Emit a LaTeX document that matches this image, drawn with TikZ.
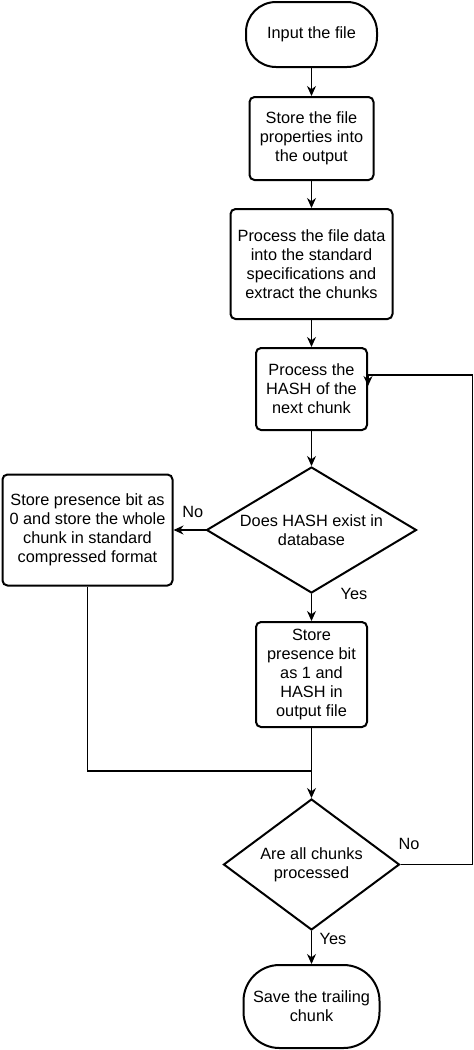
\documentclass[tikz,border=0pt]{standalone}
\usepackage{fontspec}
\setmainfont{Liberation Sans}
\usetikzlibrary{shapes,arrows,arrows.meta,positioning}
\tikzset{basic/.style={draw,line width=2pt,font=\fontsize{16.3}{19}\selectfont,align=center}}
\tikzset{term/.style={basic,rectangle,rounded corners=30pt}}
\tikzset{proc/.style={basic,rectangle,rounded corners=5pt}}
\tikzset{decide/.style={basic,diamond,inner sep=0pt}}
\tikzset{arrow/.style={draw,line width=1.1pt,>={Stealth[length=10pt,width=9pt]}}}
\tikzset{lbl/.style={font=\fontsize{16.3}{19}\selectfont,inner sep=0pt}}

\begin{document}
\begin{tikzpicture}[node distance=125pt,auto]
    \useasboundingbox (0,0) rectangle (474pt,-1050pt);
    \node[term,minimum width=131pt,minimum height=65pt] (start) at (311.5pt,-34.5pt) {Input the file};
    \node[proc,below of=start,node distance=104pt,minimum width=124pt,minimum height=83pt] (prop) {Store the file \\ properties into \\ the output};
    \node[proc,below of=prop,node distance=125.5pt,minimum width=162pt,minimum height=110pt] (chunks) {Process the file data \\ into the standard \\ specifications and \\ extract the chunks};
    \node[proc,below of=chunks,minimum width=111pt,minimum height=82pt] (hash) {Process the \\ HASH of the \\ next chunk};
    \node[decide,below of=hash,node distance=141pt,aspect=1.67,minimum width=210pt,minimum height=126pt] (exist) {Does HASH exist in \\ database};
    \node[proc,left of=exist,node distance=224pt,minimum width=170pt,minimum height=111pt] (zero) {Store presence bit as \\ 0 and store the whole \\ chunk in standard \\ compressed format};
    \node[proc,below of=exist,node distance=144.5pt,minimum width=111pt,minimum height=105pt] (one) {Store \\ presence bit \\ as 1 and \\ HASH in \\ output file};
    \node[decide,below of=one,node distance=190pt,aspect=1.34,minimum width=176pt,minimum height=131pt] (alldone) {Are all chunks \\ processed};
    \node[term,below of=alldone,node distance=142pt,minimum width=136pt,minimum height=83pt,rounded corners=36pt] (save) {Save the trailing \\ chunk};

    \node[lbl,above left=12pt and 2pt of exist.west] (no1) {No};
    \node[lbl,right=29pt of exist.south] (yes1) {Yes};
    \node[lbl,above right=15pt and -2pt of alldone.east] (no2) {No};
    \node[lbl,below right=2pt and 8pt of alldone.south] (yes2) {Yes};

    \coordinate (merge) at (one.south |- 0,-771pt);
    \coordinate (loop) at (472.5pt,-375pt);

        \path[arrow,->] (start) -- (prop);
        \path[arrow,->] (prop) -- (chunks);
        \path[arrow,->] (chunks) -- (hash);
        \path[arrow,->] (hash) -- (exist);
        \path[arrow,->] (exist.west) -- (zero);
        \path[arrow,->] (exist) -- (one);
        \path[arrow,->] (one) -- (alldone);
        \path[arrow] (zero) |- (merge);
        \path[arrow,->] (alldone) -- (save);
        \path[arrow,->] (alldone.east) -| (loop) -- (hash.east |- loop) -- ([yshift=-11pt]hash.east |- loop);
  \end{tikzpicture}
\end{document}
